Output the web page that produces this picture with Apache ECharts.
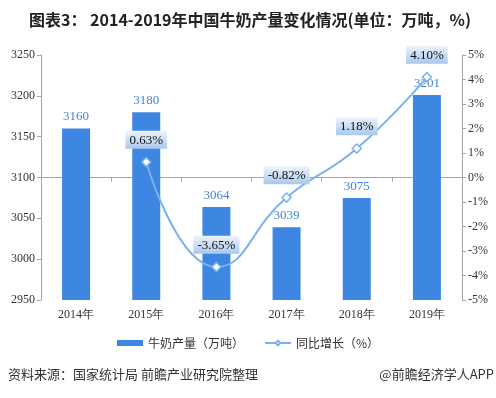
<!DOCTYPE html>
<html>
<head>
<meta charset="utf-8">
<script src="https://cdn.jsdelivr.net/npm/echarts@6/dist/echarts.min.js"></script>
<style>
  html, body { margin: 0; padding: 0; background: #fff; }
  #chart { width: 496px; height: 398px; }
</style>
</head>
<body>
<div id="chart"></div>
<script>
const years = ["2014年", "2015年", "2016年", "2017年", "2018年", "2019年"];
const milkOutput = [3160, 3180, 3064, 3039, 3075, 3201];
const growthRate = [null, 0.63, -3.65, -0.82, 1.18, 4.10];

const BAR_COLOR = "#3d86e1";
const LINE_COLOR = "#7cb0ef";
const SERIF = "'Liberation Serif', 'Times New Roman', serif";
const SANS = "'Noto Sans CJK SC', 'Noto Sans', sans-serif";

const chart = echarts.init(document.getElementById("chart"));

const axisLine = { show: true, lineStyle: { color: "#a6a6a6", width: 1 } };

chart.setOption({
  animation: false,
  title: {
    text: "图表3： 2014-2019年中国牛奶产量变化情况(单位：万吨，%)",
    left: 24,
    top: 7,
    textStyle: { fontFamily: SANS, fontSize: 16, fontWeight: "bold", color: "#222" },
  },
  grid: { left: 41, right: 34, top: 55, bottom: 98, containLabel: false },
  legend: {
    bottom: 44,
    left: "center",
    itemGap: 20,
    itemWidth: 26,
    itemHeight: 6,
    textStyle: { fontFamily: SANS, fontSize: 12, color: "#333" },
    data: [
      { name: "牛奶产量（万吨）", icon: "rect" },
      { name: "同比增长（%）" },
    ],
  },
  xAxis: {
    type: "category",
    data: years,
    axisLine: axisLine,
    axisTick: { show: true, length: 4, lineStyle: { color: "#a6a6a6" } },
    axisLabel: { fontFamily: SERIF, fontSize: 12, color: "#333", margin: 9 },
  },
  yAxis: [
    {
      type: "value",
      min: 2950,
      max: 3250,
      interval: 50,
      axisLine: axisLine,
      axisTick: { show: true, length: 4, lineStyle: { color: "#a6a6a6" } },
      splitLine: { show: false },
      axisLabel: { fontFamily: SERIF, fontSize: 12, color: "#333", margin: 6, formatter: (v) => String(v) },
    },
    {
      type: "value",
      min: -5,
      max: 5,
      interval: 1,
      axisLine: axisLine,
      axisTick: { show: true, length: 4, lineStyle: { color: "#a6a6a6" } },
      splitLine: { show: false },
      axisLabel: { fontFamily: SERIF, fontSize: 12, color: "#333", margin: 6, formatter: "{value}%" },
    },
  ],
  series: [
    {
      name: "牛奶产量（万吨）",
      type: "bar",
      data: milkOutput,
      barWidth: 28,
      itemStyle: { color: BAR_COLOR },
      label: {
        show: true,
        position: "top",
        distance: 5,
        fontFamily: SERIF,
        fontSize: 13,
        color: "#3f86e0",
      },
    },
    {
      name: "同比增长（%）",
      type: "line",
      yAxisIndex: 1,
      data: growthRate,
      smooth: true,
      symbol: "diamond",
      symbolSize: 9,
      lineStyle: { color: LINE_COLOR, width: 2 },
      itemStyle: { color: "#fff", borderColor: LINE_COLOR, borderWidth: 1.5 },
      label: {
        show: true,
        position: "top",
        distance: 8,
        fontFamily: SERIF,
        fontSize: 13,
        color: "#111",
        padding: [3, 4, 2, 4],
        backgroundColor: new echarts.graphic.LinearGradient(0, 0, 0, 1, [
          { offset: 0, color: "#eef4fc" },
          { offset: 1, color: "#a9c7ee" },
        ]),
        formatter: (p) => p.value.toFixed(2) + "%",
      },
    },
  ],
  graphic: [
    {
      type: "text",
      left: 8,
      top: 368,
      style: { text: "资料来源：国家统计局 前瞻产业研究院整理", font: "13px " + SANS, fill: "#333" },
    },
    {
      type: "text",
      right: 2,
      top: 368,
      style: { text: "@前瞻经济学人APP", font: "13px " + SANS, fill: "#333" },
    },
  ],
});
</script>
</body>
</html>
